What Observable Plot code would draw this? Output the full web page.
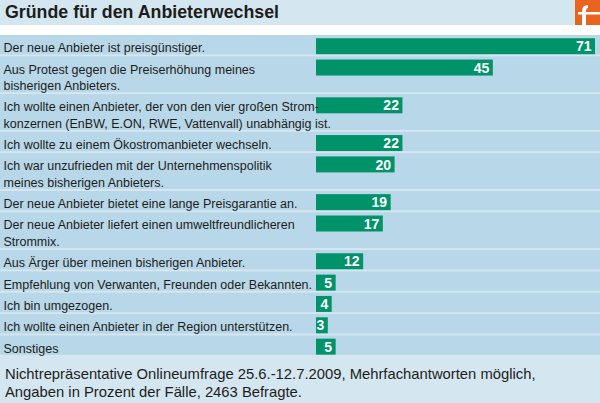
<!DOCTYPE html>
<html>
<head>
<meta charset="utf-8">
<script src="https://cdn.jsdelivr.net/npm/d3@7"></script>
<script src="https://cdn.jsdelivr.net/npm/@observablehq/plot@0.6"></script>
<style>
  html, body { margin: 0; padding: 0; background: #d4e6ef; }
  body { width: 600px; height: 403px; overflow: hidden; font-family: "Liberation Sans", Arial, sans-serif; color: #1d1d1b; }
  #head { position: relative; height: 25px; background: #d4e6ef; }
  #title { position: absolute; left: 5px; top: 2px; font-size: 17.8px; font-weight: bold; }
  #logo { position: absolute; right: 0; top: 0; }
  #strip { height: 10px; background: #ffffff; }
  #chart svg { display: block; }
  #foot { font-size: 14.8px; line-height: 18px; padding: 7px 0 0 5px; }
</style>
</head>
<body>
<div id="head">
  <div id="title">Gründe für den Anbieterwechsel</div>
  <svg id="logo" width="25" height="25" viewBox="0 0 25 25">
    <rect x="0" y="0" width="25" height="25" fill="#e8641f"/>
    <path d="M7 25 L7 11 Q7 5 13 5 L13 8 Q11 8 11 11 L11 25 Z" fill="#ffffff"/>
    <rect x="3" y="12" width="22" height="2.5" fill="#ffffff"/>
  </svg>
</div>
<div id="strip"></div>
<div id="chart"></div>
<div id="foot">Nichtrepräsentative Onlineumfrage 25.6.-12.7.2009, Mehrfachantworten möglich,<br>Angaben in Prozent der Fälle, 2463 Befragte.</div>
<script>
const labels = [
  "Der neue Anbieter ist preisgünstiger.",
  "Aus Protest gegen die Preiserhöhung meines\nbisherigen Anbieters.",
  "Ich wollte einen Anbieter, der von den vier großen Strom-\nkonzernen (EnBW, E.ON, RWE, Vattenvall) unabhängig ist.",
  "Ich wollte zu einem Ökostromanbieter wechseln.",
  "Ich war unzufrieden mit der Unternehmenspolitik\nmeines bisherigen Anbieters.",
  "Der neue Anbieter bietet eine lange Preisgarantie an.",
  "Der neue Anbieter liefert einen umweltfreundlicheren\nStrommix.",
  "Aus Ärger über meinen bisherigen Anbieter.",
  "Empfehlung von Verwanten, Freunden oder Bekannten.",
  "Ich bin umgezogen.",
  "Ich wollte einen Anbieter in der Region unterstützen.",
  "Sonstiges"
];
const values = [71, 45, 22, 22, 20, 19, 17, 12, 5, 4, 3, 5];

const ROW = 21.35, EXTRA = 16.4, FS = 12.5;
let acc = 0;
const rows = labels.map((label, i) => {
  const lines = label.split("\n").length;
  const h = ROW + (lines - 1) * EXTRA;
  const r = {label, value: values[i], top: acc, h, lines};
  acc += h;
  return r;
});
const total = acc;

const chart = Plot.plot({
  width: 600,
  height: Math.ceil(total) + 1,
  margin: 0,
  style: {background: "#d4e6ef", fontFamily: "'Liberation Sans', Arial, sans-serif"},
  x: {domain: [0, d3.max(values)], range: [316, 595], axis: null},
  y: {domain: [0, Math.ceil(total) + 1], range: [0, Math.ceil(total) + 1], axis: null},
  marks: [
    Plot.rect(rows, {y1: d => d.top, y2: d => d.top + d.h - 2, fill: "#b8d7e8"}),
    Plot.rect(rows, {x1: 0, x2: "value", y1: d => d.top + 3.2, y2: d => d.top + 19.2, fill: "#00936a"}),
    Plot.text(rows, {
      y: d => d.top + 11.4 + (d.lines - 1) * EXTRA / 2, text: "label", frameAnchor: "left", dx: 3,
      textAnchor: "start", lineAnchor: "middle", lineHeight: EXTRA / FS,
      fontSize: FS, fill: "#1d1d1b"
    }),
    Plot.text(rows, {
      x: "value", y: d => d.top + 11.4, text: d => String(d.value),
      textAnchor: "end", dx: -4, fill: "#ffffff", fontWeight: "bold", fontSize: 14
    })
  ]
});
document.getElementById("chart").appendChild(chart);
</script>
</body>
</html>
